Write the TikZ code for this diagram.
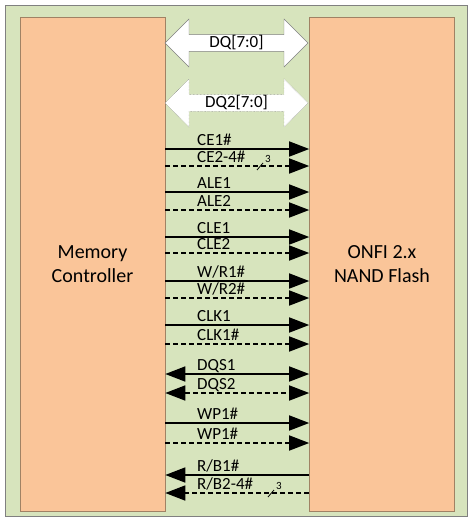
\documentclass[tikz,border=0pt]{standalone}
\usepackage{fontspec}
\setmainfont{Carlito}
\usetikzlibrary{arrows.meta,shapes.arrows}
\definecolor{boardgreen}{RGB}{215,228,189}
\definecolor{chiporange}{RGB}{250,197,153}
\definecolor{chipedge}{RGB}{160,130,100}
\tikzset{>={Triangle[length=20pt,width=15pt]}}
\tikzset{chip/.style={draw=chipedge, line width=0.6pt, fill=chiporange, minimum width=145pt, minimum height=494pt, align=center, font=\fontsize{20}{24}\selectfont}}
\tikzset{bus/.style={double arrow, draw=gray, fill=white, minimum height=143pt, minimum width=48pt, double arrow head extend=15.5pt, inner ysep=0pt, text height=12pt, text depth=4pt, font=\fontsize{17}{20}\selectfont}}
\tikzset{sig-label/.style={anchor=south west, inner xsep=0pt, inner ysep=3.5pt, text depth=0pt, font=\fontsize{17}{20}\selectfont}}
\tikzset{sig/.style={line width=1.6pt}}
\tikzset{sig-dashed/.style={line width=1.6pt, dash pattern=on 5pt off 3pt}}

\begin{document}
\begin{tikzpicture}[x=1pt, y=-1pt]
      \useasboundingbox (0,0) rectangle (474,522);
      \node (board) [draw=gray, fill=boardgreen, minimum width=462pt, minimum height=511pt] at (236,260.5) {};
      \node (mc) [chip] at (92.5,264) {Memory\\Controller};
      \node (nf) [chip] at (382,264) {ONFI 2.x\\NAND Flash};

      \node (dq) [bus] at (236.5,43) {DQ[7:0]};
      \node (dq2) [bus, densely dotted] at (236.5,103) {DQ2[7:0]};

      \node (ce1) [sig-label] at (197,149) {CE1\#};
      \node (ce2) [sig-label] at (197,166) {CE2-4\#};
      \node (ale1) [sig-label] at (197,192) {ALE1};
      \node (ale2) [sig-label] at (197,210) {ALE2};
      \node (cle1) [sig-label] at (197,237) {CLE1};
      \node (cle2) [sig-label] at (197,253) {CLE2};
      \node (wr1) [sig-label] at (197,281) {W/R1\#};
      \node (wr2) [sig-label] at (197,298) {W/R2\#};
      \node (clk1) [sig-label] at (197,325) {CLK1};
      \node (clk1n) [sig-label] at (197,344) {CLK1\#};
      \node (dqs1) [sig-label] at (197,374) {DQS1};
      \node (dqs2) [sig-label] at (197,393) {DQS2};
      \node (wp1) [sig-label] at (197,423) {WP1\#};
      \node (wp2) [sig-label] at (197,443) {WP1\#};
      \node (rb1) [sig-label] at (197,475) {R/B1\#};
      \node (rb2) [sig-label] at (197,493) {R/B2-4\#};

      \draw[sig, ->] (mc.east |- ce1.south) -- (nf.west |- ce1.south);
      \draw[sig-dashed, ->] (mc.east |- ce2.south) -- (nf.west |- ce2.south);
      \draw[sig, ->] (mc.east |- ale1.south) -- (nf.west |- ale1.south);
      \draw[sig-dashed, ->] (mc.east |- ale2.south) -- (nf.west |- ale2.south);
      \draw[sig, ->] (mc.east |- cle1.south) -- (nf.west |- cle1.south);
      \draw[sig-dashed, ->] (mc.east |- cle2.south) -- (nf.west |- cle2.south);
      \draw[sig, ->] (mc.east |- wr1.south) -- (nf.west |- wr1.south);
      \draw[sig-dashed, ->] (mc.east |- wr2.south) -- (nf.west |- wr2.south);
      \draw[sig, ->] (mc.east |- clk1.south) -- (nf.west |- clk1.south);
      \draw[sig-dashed, ->] (mc.east |- clk1n.south) -- (nf.west |- clk1n.south);
      \draw[sig, <->] (mc.east |- dqs1.south) -- (nf.west |- dqs1.south);
      \draw[sig-dashed, <->] (mc.east |- dqs2.south) -- (nf.west |- dqs2.south);
      \draw[sig, ->] (mc.east |- wp1.south) -- (nf.west |- wp1.south);
      \draw[sig-dashed, ->] (mc.east |- wp2.south) -- (nf.west |- wp2.south);
      \draw[sig, ->] (nf.west |- rb1.south) -- (mc.east |- rb1.south);
      \draw[sig-dashed, ->] (nf.west |- rb2.south) -- (mc.east |- rb2.south);

      % bus width marks
      \draw[line width=0.8pt] (257,170) -- (263,163);
      \node (ce-width) [font=\fontsize{11}{13}\selectfont, inner sep=0pt] at (268,159) {3};
      \draw[line width=0.8pt] (268,497) -- (274,490);
      \node (rb-width) [font=\fontsize{11}{13}\selectfont, inner sep=0pt] at (279,486) {3};
\end{tikzpicture}
\end{document}
